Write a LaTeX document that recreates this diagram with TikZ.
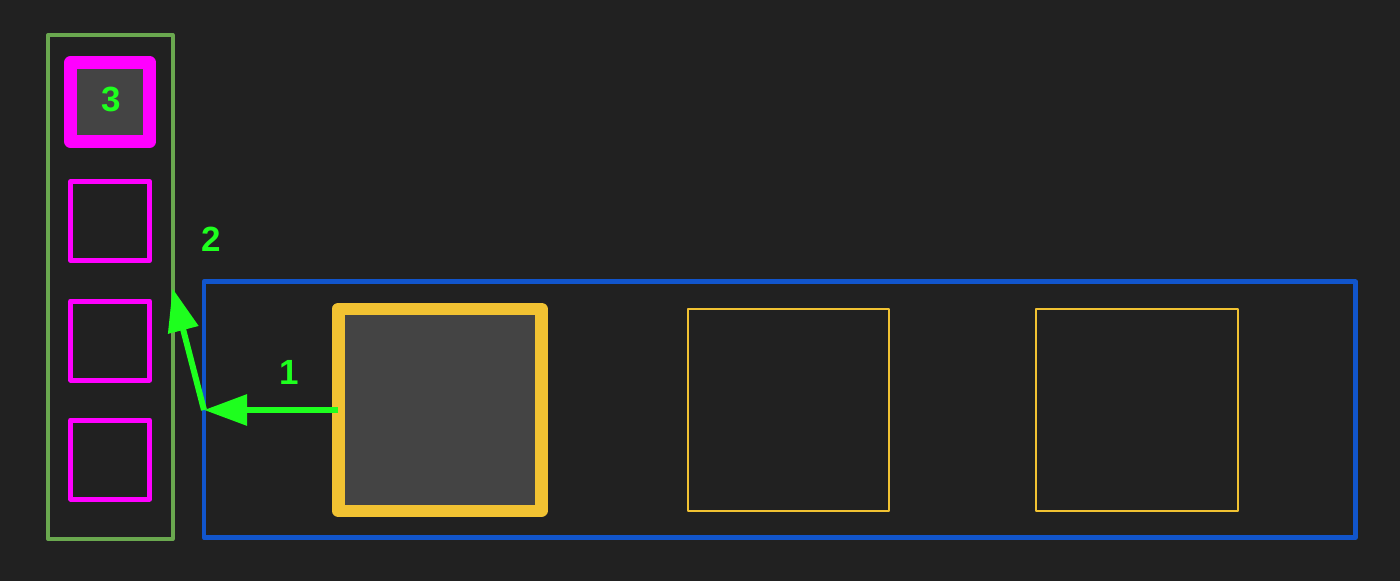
\documentclass[tikz,border=0pt]{standalone}
\usepackage{fontspec}
\setmainfont{Liberation Sans}
\usetikzlibrary{arrows.meta}
\definecolor{bg}{HTML}{212121}
\definecolor{fillgray}{HTML}{444444}
\definecolor{mag}{HTML}{FF00FF}
\definecolor{lime}{RGB}{30,255,30}
\definecolor{grn}{HTML}{6AA84F}
\definecolor{blu}{HTML}{1155CC}
\definecolor{yel}{HTML}{F1C232}
\begin{document}
\begin{tikzpicture}[x=1pt,y=-1pt,
  box/.style={draw, rectangle, inner sep=0pt, outer sep=0pt, line join=round},
  lbl/.style={text=lime, font=\bfseries\fontsize{35}{42}\selectfont, inner sep=0pt},
  arr/.style={draw=lime, line width=6pt, -{Triangle[length=43pt,width=30pt]}}]
\fill[bg] (0,0) rectangle (1400,581);
\useasboundingbox (0,0) rectangle (1400,581);
% containers
\node[box, draw=grn, line width=4pt, minimum width=124.5pt, minimum height=504pt] (stack) at (110.25,287) {};
\node[box, draw=blu, line width=4.5pt, minimum width=1151.5pt, minimum height=256pt] (row) at (779.75,409.7) {};
% magenta boxes
\node[box, draw=mag, fill=fillgray, line width=13pt, minimum width=79pt, minimum height=79pt] (m1) at (110.25,102) {};
\node[box, draw=mag, line width=5pt, minimum width=79pt, minimum height=79pt] (m2) at (110.25,221) {};
\node[box, draw=mag, line width=5pt, minimum width=79pt, minimum height=79pt] (m3) at (110.25,340.5) {};
\node[box, draw=mag, line width=5pt, minimum width=79pt, minimum height=79pt] (m4) at (110.25,459.5) {};
% yellow boxes
\node[box, draw=yel, fill=fillgray, line width=12.5pt, minimum width=203pt, minimum height=202pt] (y1) at (439.75,409.75) {};
\node[box, draw=yel, line width=2pt, minimum width=201pt, minimum height=202pt] (y2) at (788.3,409.7) {};
\node[box, draw=yel, line width=2pt, minimum width=202pt, minimum height=202pt] (y3) at (1137,409.7) {};
% labels
\node[lbl] (t3) at (111,99.5) {3};
\node[lbl] (t2) at (211.5,239.5) {2};
\node[lbl] (t1) at (289.5,372.5) {1};
% arrows
\coordinate (turn) at (204,410);
\coordinate (tip2) at (172.5,288.3);
\draw[arr] (y1.west |- turn) -- (turn);
\draw[arr] (turn) -- (tip2);
\end{tikzpicture}
\end{document}
